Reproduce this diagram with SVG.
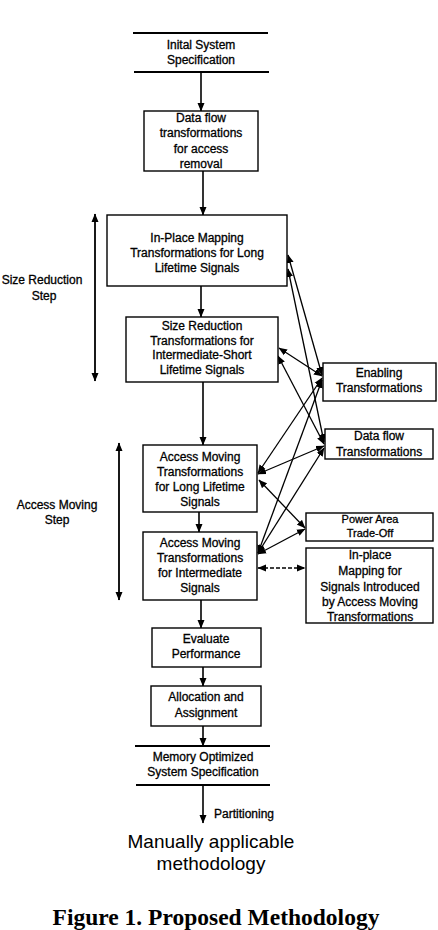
<svg xmlns="http://www.w3.org/2000/svg" width="438" height="930" viewBox="0 0 438 930">
<defs>
<marker id="ah" markerUnits="userSpaceOnUse" markerWidth="9" markerHeight="8" refX="8" refY="4" orient="auto-start-reverse" viewBox="0 0 9 8">
<path d="M0,0.5 L8.5,4 L0,7.5 Z" fill="#000"/>
</marker>
<style>
.t{font-family:"Liberation Sans",Arial,sans-serif;font-size:12px;text-anchor:middle;fill:#000;stroke:#000;stroke-width:0.3}
.s{font-size:11px}
.big{font-family:"Liberation Sans",Arial,sans-serif;font-size:19px;text-anchor:middle;fill:#000}
.cap{font-family:"Liberation Serif","Times New Roman",serif;font-size:23.5px;font-weight:bold;text-anchor:middle;fill:#000}
.box{fill:#fff;stroke:#000;stroke-width:1.4}
.bar{stroke:#000;stroke-width:2.2}
.flow{stroke:#000;stroke-width:1.6;fill:none;marker-end:url(#ah)}
.bi{stroke:#000;stroke-width:1.3;fill:none;marker-start:url(#ah);marker-end:url(#ah)}
.dash{stroke:#000;stroke-width:1.3;fill:none;stroke-dasharray:4 2;marker-start:url(#ah);marker-end:url(#ah)}
.brk{stroke:#000;stroke-width:1.8;fill:none;marker-start:url(#ah);marker-end:url(#ah)}
</style>
</defs>
<rect width="438" height="930" fill="#fff"/>

<g id="connectors">
<line class="flow" x1="201" y1="72" x2="201" y2="111"/>
<line class="flow" x1="203" y1="171" x2="203" y2="215"/>
<line class="flow" x1="201" y1="286" x2="201" y2="317"/>
<line class="flow" x1="203" y1="382" x2="203" y2="445"/>
<line class="flow" x1="199" y1="512" x2="199" y2="532"/>
<line class="flow" x1="201" y1="600" x2="201" y2="628"/>
<line class="flow" x1="203" y1="667" x2="203" y2="686"/>
<line class="flow" x1="203" y1="726" x2="203" y2="746"/>
<line class="flow" x1="203" y1="785" x2="203" y2="823"/>
<line class="brk" x1="95" y1="214" x2="95" y2="381"/>
<line class="brk" x1="119" y1="443" x2="119" y2="600"/>
<line class="bi" x1="288" y1="255" x2="322" y2="375"/>
<line class="bi" x1="288" y1="269" x2="324" y2="442"/>
<line class="bi" x1="279" y1="348" x2="322" y2="376"/>
<line class="bi" x1="278" y1="356" x2="324" y2="444"/>
<line class="bi" x1="258" y1="473" x2="322" y2="378"/>
<line class="bi" x1="258" y1="474" x2="324" y2="446"/>
<line class="bi" x1="259" y1="480" x2="305" y2="528"/>
<line class="bi" x1="258" y1="553" x2="322" y2="380"/>
<line class="bi" x1="258" y1="553" x2="324" y2="448"/>
<line class="bi" x1="258" y1="554" x2="305" y2="529"/>
<line class="dash" x1="258" y1="568" x2="305" y2="568"/>
</g>

<g id="initial-spec">
<line class="bar" x1="133" y1="33" x2="268" y2="33"/>
<line class="bar" x1="134" y1="72" x2="269" y2="72"/>
<text class="t" x="201" y="49">Inital System</text>
<text class="t" x="201" y="64">Specification</text>
</g>

<g id="dataflow-removal">
<rect class="box" x="144" y="111" width="114" height="60"/>
<text class="t" x="201" y="122">Data flow</text>
<text class="t" x="201" y="137">transformations</text>
<text class="t" x="201" y="153">for access</text>
<text class="t" x="201" y="168">removal</text>
</g>

<g id="inplace-long">
<rect class="box" x="107" y="215" width="180" height="71"/>
<text class="t" x="197" y="242">In-Place Mapping</text>
<text class="t" x="197" y="257">Transformations for Long</text>
<text class="t" x="197" y="272">Lifetime Signals</text>
</g>

<g id="size-reduction">
<rect class="box" x="126" y="317" width="152" height="65"/>
<text class="t" x="202" y="330">Size Reduction</text>
<text class="t" x="202" y="344.5">Transformations for</text>
<text class="t" x="202" y="359">Intermediate-Short</text>
<text class="t" x="202" y="374">Lifetime Signals</text>
</g>

<g id="size-step">
<text class="t" x="42" y="284">Size Reduction</text>
<text class="t" x="44" y="300">Step</text>
</g>

<g id="enabling">
<rect class="box" x="323" y="363" width="113" height="38"/>
<text class="t" x="379" y="377">Enabling</text>
<text class="t" x="379" y="392">Transformations</text>
</g>

<g id="dataflow-trans">
<rect class="box" x="325" y="429" width="108" height="30"/>
<text class="t" x="379" y="440">Data flow</text>
<text class="t" x="379" y="456">Transformations</text>
</g>

<g id="access-long">
<rect class="box" x="143" y="445" width="114" height="67"/>
<text class="t" x="200" y="461">Access Moving</text>
<text class="t" x="200" y="476">Transformations</text>
<text class="t" x="200" y="491">for Long Lifetime</text>
<text class="t" x="200" y="506">Signals</text>
</g>

<g id="access-step">
<text class="t" x="57" y="509">Access Moving</text>
<text class="t" x="57" y="524">Step</text>
</g>

<g id="access-inter">
<rect class="box" x="143" y="532" width="114" height="68"/>
<text class="t" x="200" y="547">Access Moving</text>
<text class="t" x="200" y="562">Transformations</text>
<text class="t" x="200" y="577">for Intermediate</text>
<text class="t" x="200" y="592">Signals</text>
</g>

<g id="power-area">
<rect class="box" x="306" y="513" width="127" height="28"/>
<text class="t s" x="370" y="523">Power Area</text>
<text class="t s" x="370" y="536.5">Trade-Off</text>
</g>

<g id="inplace-signals">
<rect class="box" x="306" y="548" width="127" height="75"/>
<text class="t" x="370" y="559">In-place</text>
<text class="t" x="370" y="575">Mapping for</text>
<text class="t" x="370" y="590.5">Signals Introduced</text>
<text class="t" x="370" y="606">by Access Moving</text>
<text class="t" x="370" y="621">Transformations</text>
</g>

<g id="evaluate">
<rect class="box" x="152" y="628" width="109" height="39"/>
<text class="t" x="206" y="643">Evaluate</text>
<text class="t" x="206" y="658">Performance</text>
</g>

<g id="allocation">
<rect class="box" x="151" y="686" width="110" height="40"/>
<text class="t" x="206" y="701">Allocation and</text>
<text class="t" x="206" y="717">Assignment</text>
</g>

<g id="memory-spec">
<line class="bar" x1="135" y1="746" x2="270" y2="746"/>
<line class="bar" x1="136" y1="785" x2="270" y2="785"/>
<text class="t" x="203" y="761">Memory Optimized</text>
<text class="t" x="203" y="776">System Specification</text>
</g>

<g id="partitioning">
<text class="t" x="214" y="818" style="text-anchor:start">Partitioning</text>
</g>

<g id="caption">
<text class="big" x="211" y="848">Manually applicable</text>
<text class="big" x="211" y="870">methodology</text>
<text class="cap" x="216" y="925">Figure 1. Proposed Methodology</text>
</g>
</svg>
